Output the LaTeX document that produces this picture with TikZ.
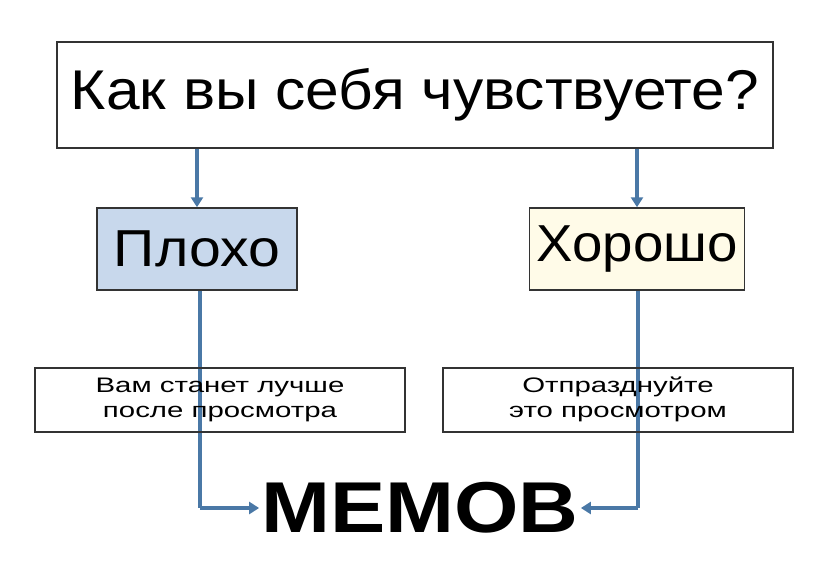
\documentclass[tikz,border=0pt]{standalone}
\usepackage{fontspec}
\setmainfont{Liberation Sans}
\usetikzlibrary{arrows.meta}
\definecolor{arr}{HTML}{4A78A6}
\definecolor{bluefill}{HTML}{C8D8EC}
\definecolor{yelfill}{HTML}{FFFBE8}
\begin{document}
\begin{tikzpicture}[x=1pt,y=-1pt,
  box/.style={draw=black!80,line width=1.5pt,inner sep=0pt},
  conn/.style={draw=arr,line width=3.5pt,-{Triangle[length=10pt,width=12pt]}},
  plain/.style={draw=arr,line width=3.5pt}]
\useasboundingbox (0,0) rectangle (827,568);
\node[box,minimum width=716,minimum height=106] (q) at (415,95) {\scalebox{1.08}[1]{\fontsize{56}{60}\selectfont Как вы себя чувствуете?}};
\node[box,fill=bluefill,minimum width=200,minimum height=82] (bad) at (197,249) {\scalebox{1.1}[1]{\fontsize{52}{56}\selectfont Плохо}};
\node[box,fill=yelfill,minimum width=215,minimum height=82] (good) at (637,249) {\scalebox{1.05}[1]{\fontsize{52}{56}\selectfont Хорошо}};
\node[inner sep=2pt] (mem) at (420,508) {\scalebox{1.15}[1]{\bfseries\fontsize{72}{76}\selectfont МЕМОВ}};
\coordinate (lc) at (200,508);
\coordinate (rc) at (638,508);
\draw[conn] (q.south -| bad) -- (bad.north);
\draw[conn] (q.south -| good) -- (good.north);
\draw[plain] (bad.south -| lc) -- (lc);
\draw[conn] (lc) -- (mem.west);
\draw[plain] (good.south -| rc) -- (rc);
\draw[conn] (rc) -- (mem.east);
\node[box,minimum width=370,minimum height=64] (l) at (220,400) {\scalebox{1.4}[1]{\fontsize{21}{25}\selectfont\begin{tabular}{@{}c@{}}Вам станет лучше\\ после просмотра\end{tabular}}};
\node[box,minimum width=350,minimum height=64] (r) at (618,400) {\scalebox{1.4}[1]{\fontsize{21}{25}\selectfont\begin{tabular}{@{}c@{}}Отпразднуйте\\ это просмотром\end{tabular}}};
\end{tikzpicture}
\end{document}
